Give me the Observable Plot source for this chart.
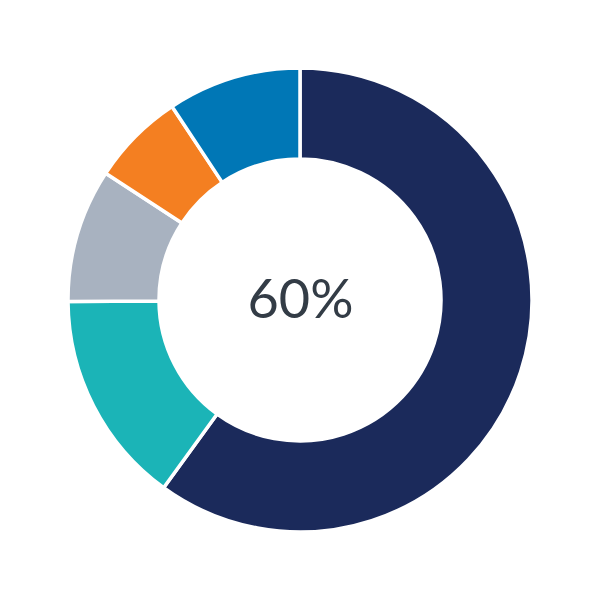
<!DOCTYPE html>
<html>
<head>
<meta charset="utf-8">
<script src="https://cdn.jsdelivr.net/npm/d3@7"></script>
<script src="https://cdn.jsdelivr.net/npm/@observablehq/plot@0.6"></script>
<style>
  html, body { margin: 0; padding: 0; background: #fff; }
</style>
</head>
<body>
<div id="chart"></div>
<script>
const categories = ["A", "B", "C", "D", "E"];
const values = [60, 14.9, 9.3, 6.5, 9.3];
const colors = ["#1b2a5b", "#1bb4b7", "#a8b2c0", "#f47f21", "#0077b6"];
const centerLabel = ["60%"];

const data = categories.map((c, i) => ({category: c, value: values[i], color: colors[i]}));

const pie = d3.pie().value(d => d.value).sort(null);
const arcs = pie(data);

function donut(index, scales, vals, dimensions) {
  const cx = scales.x(0), cy = scales.y(0);
  const outer = scales.x(232) - cx;
  const inner = scales.x(141) - cx;
  const arc = d3.arc().innerRadius(inner).outerRadius(outer);
  const g = d3.create("svg:g").attr("transform", `translate(${cx},${cy})`);
  g.selectAll("path")
    .data(arcs)
    .join("path")
    .attr("d", arc)
    .attr("fill", d => d.data.color)
    .attr("stroke", "#fff")
    .attr("stroke-width", 3.5)
    .attr("stroke-linejoin", "round");
  return g.node();
}

const chart = Plot.plot({
  width: 600,
  height: 600,
  margin: 0,
  x: {domain: [-300, 300], axis: null},
  y: {domain: [300, -300], axis: null},
  marks: [
    donut,
    Plot.text(centerLabel, {
      x: () => 0, y: () => 0,
      text: d => d,
      fontSize: 54,
      fontFamily: "Lato, sans-serif",
      fontWeight: 400,
      fill: "#333c46",
      dy: 0,
      textAnchor: "middle"
    })
  ],
  style: {background: "#fff"}
});
document.getElementById("chart").appendChild(chart);
</script>
</body>
</html>
